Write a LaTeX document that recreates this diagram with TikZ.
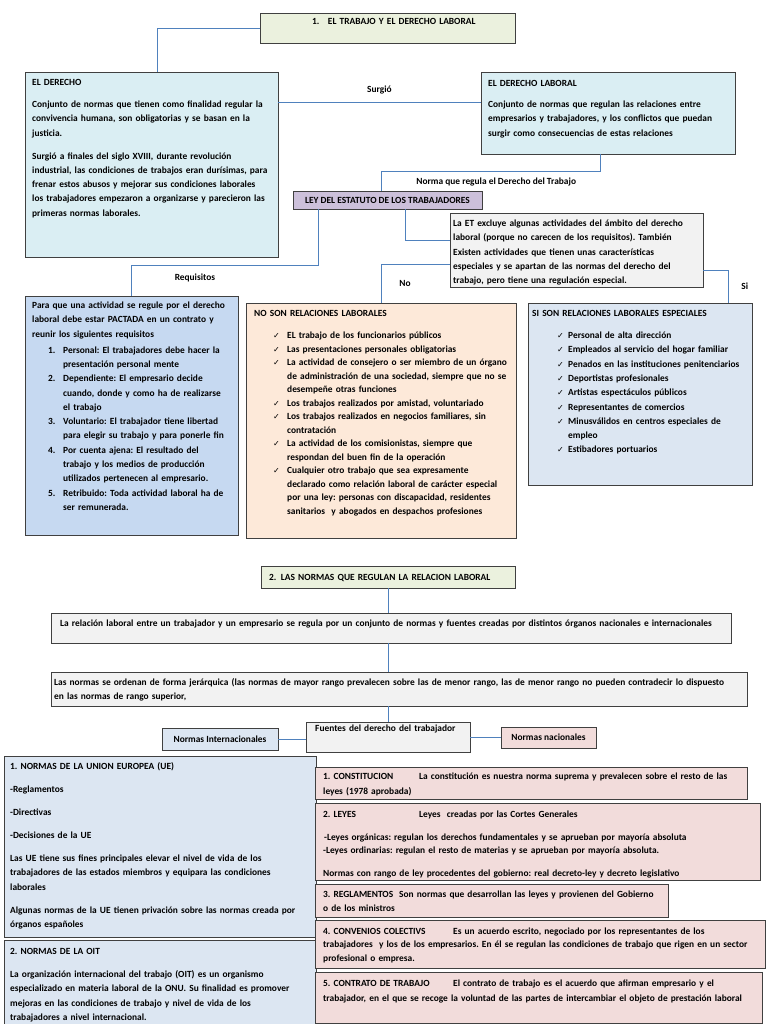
\documentclass[tikz,border=0pt]{standalone}
\usepackage{fontspec}
\setmainfont{Carlito}
\newfontfamily\symfont{DejaVu Sans}
\newcommand{\chk}[1][14pt]{\makebox[#1][l]{\symfont\fontsize{8}{8}\selectfont ✓}}
\newcommand{\num}[1]{\makebox[15pt][l]{#1}}
\definecolor{hdgreen}{HTML}{EBF1DE}
\definecolor{lblue}{HTML}{DAEEF3}
\definecolor{lilac}{HTML}{CCC0DA}
\definecolor{lgray}{HTML}{F2F2F2}
\definecolor{mblue}{HTML}{C6D9F1}
\definecolor{peach}{HTML}{FDE9D9}
\definecolor{gblue}{HTML}{DCE6F2}
\definecolor{rose}{HTML}{F2DCDB}
\definecolor{linkblue}{HTML}{4F81BD}
\frenchspacing
\begin{document}
\begin{tikzpicture}[x=1pt, y=-1pt]
        \tikzset{
            block/.style = {draw=black!75, line width=0.9pt, rectangle, anchor=north west, inner sep=0pt, outer sep=0pt,
                            font=\fontsize{9.4}{12}\selectfont\bfseries},
            body/.style  = {anchor=base west, inner sep=0pt, text width=760pt, align=left,
                            font=\fontsize{9.4}{14.3}\selectfont\bfseries},
            tag/.style   = {inner sep=2pt, font=\fontsize{9.4}{12}\selectfont\bfseries},
            link/.style  = {draw=linkblue, line width=0.7pt}
        }
        \useasboundingbox (0,0) rectangle (768,1024);
        \clip (0,0) rectangle (768,1024);
        \fill[white] (0,0) rectangle (768,1024);

        % part 1
        \node[block, fill=hdgreen, minimum width=255pt, minimum height=30pt] (T1) at (260,13) {};
        \node[body] (T1tx) at (312,24.5) {1.\hspace{8.5pt}EL TRABAJO Y EL DERECHO LABORAL};

        \node[block, fill=lblue, minimum width=253pt, minimum height=185pt] (DER) at (25,72) {};
        \node[body] (DERtx) at (32,85.5) {EL DERECHO\\[7.7pt]
            Conjunto de normas que tienen como finalidad regular la\\
            convivencia humana, son obligatorias y se basan en la\\
            justicia.\\[8.7pt]
            Surgió a finales del siglo XVIII, durante revolución\\
            industrial, las condiciones de trabajos eran durísimas, para\\
            frenar estos abusos y mejorar sus condiciones laborales\\
            los trabajadores empezaron a organizarse y parecieron las\\
            primeras normas laborales.};

        \node[block, fill=lblue, minimum width=254pt, minimum height=82pt] (DLAB) at (481,72) {};
        \node[body] (DLABtx) at (488,86.5) {EL DERECHO LABORAL\\[6.7pt]
            Conjunto de normas que regulan las relaciones entre\\
            empresarios y trabajadores, y los conflictos que puedan\\
            surgir como consecuencias de estas relaciones};

        \node[block, fill=lilac, minimum width=189pt, minimum height=18pt] (LEY) at (293,191) {LEY DEL ESTATUTO DE LOS TRABAJADORES};

        \node[block, fill=lgray, minimum width=253pt, minimum height=74pt] (ET) at (450,213) {};
        \node[body] (ETtx) at (453,226.5) {La ET excluye algunas actividades del ámbito del derecho\\
            laboral (porque no carecen de los requisitos). También\\
            Existen actividades que tienen unas características\\
            especiales y se apartan de las normas del derecho del\\
            trabajo, pero tiene una regulación especial.};

        \node[block, fill=mblue, minimum width=213pt, minimum height=239pt] (REQ) at (25,296) {};
        \node[body] (REQtx) at (32,308.5) {Para que una actividad se regule por el derecho\\
            laboral debe estar PACTADA en un contrato y\\
            reunir los siguientes requisitos\\[1.7pt]
            \hspace*{16pt}\num{1.}Personal: El trabajadores debe hacer la\\
            \hspace*{31pt}presentación personal mente\\
            \hspace*{16pt}\num{2.}Dependiente: El empresario decide\\
            \hspace*{31pt}cuando, donde y como ha de realizarse\\
            \hspace*{31pt}el trabajo\\
            \hspace*{16pt}\num{3.}Voluntario: El trabajador tiene libertad\\
            \hspace*{31pt}para elegir su trabajo y para ponerle fin\\
            \hspace*{16pt}\num{4.}Por cuenta ajena: El resultado del\\
            \hspace*{31pt}trabajo y los medios de producción\\
            \hspace*{31pt}utilizados pertenecen al empresario.\\
            \hspace*{16pt}\num{5.}Retribuido: Toda actividad laboral ha de\\
            \hspace*{31pt}ser remunerada.};

        \node[block, fill=peach, minimum width=270pt, minimum height=235pt] (NOS) at (246,303) {};
        \node[body, font=\fontsize{9.4}{13.5}\selectfont\bfseries] (NOStx) at (254,316.5) {NO SON RELACIONES LABORALES\\[8.5pt]
            \hspace*{19pt}\chk EL trabajo de los funcionarios públicos\\
            \hspace*{19pt}\chk Las presentaciones personales obligatorias\\
            \hspace*{19pt}\chk La actividad de consejero o ser miembro de un órgano\\
            \hspace*{33pt}de administración de una sociedad, siempre que no se\\
            \hspace*{33pt}desempeñe otras funciones\\
            \hspace*{19pt}\chk Los trabajos realizados por amistad, voluntariado\\
            \hspace*{19pt}\chk Los trabajos realizados en negocios familiares, sin\\
            \hspace*{33pt}contratación\\
            \hspace*{19pt}\chk La actividad de los comisionistas, siempre que\\
            \hspace*{33pt}respondan del buen fin de la operación\\
            \hspace*{19pt}\chk Cualquier otro trabajo que sea expresamente\\
            \hspace*{33pt}declarado como relación laboral de carácter especial\\
            \hspace*{33pt}por una ley: personas con discapacidad, residentes\\
            \hspace*{33pt}sanitarios\ \ y abogados en despachos profesiones};

        \node[block, fill=gblue, minimum width=224pt, minimum height=182pt] (SIS) at (528,303) {};
        \node[body] (SIStx) at (532,316.5) {SI SON RELACIONES LABORALES ESPECIALES\\[7.7pt]
            \hspace*{25pt}\chk[11pt]Personal de alta dirección\\
            \hspace*{25pt}\chk[11pt]Empleados al servicio del hogar familiar\\
            \hspace*{25pt}\chk[11pt]Penados en las instituciones penitenciarios\\
            \hspace*{25pt}\chk[11pt]Deportistas profesionales\\
            \hspace*{25pt}\chk[11pt]Artistas espectáculos públicos\\
            \hspace*{25pt}\chk[11pt]Representantes de comercios\\
            \hspace*{25pt}\chk[11pt]Minusválidos en centros especiales de\\
            \hspace*{36pt}empleo\\
            \hspace*{25pt}\chk[11pt]Estibadores portuarios};

        \draw[link] (T1.west) -| ([xshift=5.5pt]DER.north);
        \draw[link] ([yshift=-30pt]DER.north east) -- node[tag, above=6pt]{Surgió} ([yshift=-30pt]DLAB.north west);
        \draw[link] ([xshift=-8pt]DLAB.south) |- node[tag, pos=0.737, below=5pt]{Norma que regula el Derecho del Trabajo}
            ([xshift=-6.5pt, yshift=20pt]LEY.north) -- ([xshift=-6.5pt]LEY.north);
        \draw[link] ([xshift=17.5pt]LEY.south) |- ([yshift=10pt]ET.west);
        \draw[link] ([xshift=-69.5pt]LEY.south) -- ++(0,56) -| node[tag, pos=0.33, below=6.5pt]{Requisitos} (REQ.north);
        \draw[link] ([yshift=-14pt]ET.west) -| node[tag, pos=0.75, right=16pt]{No} (NOS.north);
        \draw[link] ([yshift=-20pt]ET.east) -| node[tag, pos=0.75, right=11pt]{Si} ([xshift=-24pt]SIS.north east);

        % part 2
        \node[block, fill=hdgreen, minimum width=254pt, minimum height=22pt] (T2) at (261,566) {};
        \node[body] (T2tx) at (269,580.5) {2.\hspace{4.5pt}LAS NORMAS QUE REGULAN LA RELACION LABORAL};

        \node[block, fill=lgray, minimum width=680pt, minimum height=30pt] (REL) at (51,613) {};
        \node[body] (RELtx) at (60,626.5) {La relación laboral entre un trabajador y un empresario se regula por un conjunto de normas y fuentes creadas por distintos órganos nacionales e internacionales};

        \node[block, fill=lgray, minimum width=696pt, minimum height=34pt] (JER) at (51,672) {};
        \node[body] (JERtx) at (54,685.5) {Las normas se ordenan de forma jerárquica (las normas de mayor rango prevalecen sobre las de menor rango, las de menor rango no pueden contradecir lo dispuesto\\
            en las normas de rango superior,};

        \node[block, fill=lgray, minimum width=164pt, minimum height=30pt] (FUE) at (306,722) {};
        \node[body] (FUEtx) at (315,731.5) {Fuentes del derecho del trabajador};

        \node[block, fill=gblue, minimum width=116pt, minimum height=22pt] (NINT) at (162,728) {Normas Internacionales};
        \node[block, fill=rose, minimum width=95pt, minimum height=21pt] (NNAC) at (501,727) {Normas nacionales};

        \draw[link] (T2.south) -- (T2.south |- REL.north);
        \draw[link] (T2.south |- REL.south) -- (T2.south |- JER.north);
        \draw[link] (T2.south |- JER.south) -- (T2.south |- FUE.north);
        \draw[link] (NINT.east) -- (NINT.east -| FUE.west);
        \draw[link] (FUE.east) -- (FUE.east -| NNAC.west);

        % normas internacionales
        \node[block, fill=gblue, minimum width=312pt, minimum height=181pt] (UE) at (4,756) {};
        \node[body] (UEtx) at (10,769.5) {1. NORMAS DE LA UNION EUROPEA (UE)\\[8.7pt]
            -Reglamentos\\[8.7pt]
            -Directivas\\[8.7pt]
            -Decisiones de la UE\\[8.7pt]
            Las UE tiene sus fines principales elevar el nivel de vida de los\\
            trabajadores de las estados miembros y equipara las condiciones\\
            laborales\\[8.7pt]
            Algunas normas de la UE tienen privación sobre las normas creada por\\
            órganos españoles};

        \node[block, fill=gblue, minimum width=312pt, minimum height=90pt] (OIT) at (4,940) {};
        \node[body] (OITtx) at (10,954.5) {2. NORMAS DE LA OIT\\[8.7pt]
            La organización internacional del trabajo (OIT) es un organismo\\
            especializado en materia laboral de la ONU. Su finalidad es promover\\
            mejoras en las condiciones de trabajo y nivel de vida de los\\
            trabajadores a nivel internacional.};

        % normas nacionales
        \node[block, fill=rose, minimum width=432pt, minimum height=32pt] (CONS) at (315,767) {};
        \node[body] (CONStx) at (323,779.5) {\makebox[96pt][l]{1. CONSTITUCION}La constitución es nuestra norma suprema y prevalecen sobre el resto de las\\[0.7pt]
            leyes (1978 aprobada)};

        \node[block, fill=rose, minimum width=445pt, minimum height=77pt] (LEYES) at (315,803) {};
        \node[body] (LEYEStx) at (323,817.5) {\makebox[96pt][l]{2. LEYES}Leyes\ \ creadas por las Cortes Generales\\[8.7pt]
            \hspace*{1pt}-Leyes orgánicas: regulan los derechos fundamentales y se aprueban por mayoría absoluta\\[-1.3pt]
            -Leyes ordinarias: regulan el resto de materias y se aprueban por mayoría absoluta.\\[8.7pt]
            Normas con rango de ley procedentes del gobierno: real decreto-ley y decreto legislativo};

        \node[block, fill=rose, minimum width=353pt, minimum height=33pt] (REGL) at (315,884) {};
        \node[body] (REGLtx) at (323,897.5) {3. REGLAMENTOS\hspace{6pt}Son normas que desarrollan las leyes y provienen del Gobierno\\
            o de los ministros};

        \node[block, fill=rose, minimum width=450pt, minimum height=48pt] (CONV) at (315,920) {};
        \node[body] (CONVtx) at (323,934.5) {\makebox[130pt][l]{4. CONVENIOS COLECTIVS}Es un acuerdo escrito, negociado por los representantes de los\\[-1.3pt]
            trabajadores\ \ y los de los empresarios. En él se regulan las condiciones de trabajo que rigen en un sector\\
            profesional o empresa.};

        \node[block, fill=rose, minimum width=447pt, minimum height=51pt] (CONT) at (315,972) {};
        \node[body] (CONTtx) at (323,986) {\makebox[130pt][l]{5. CONTRATO DE TRABAJO}El contrato de trabajo es el acuerdo que afirman empresario y el\\[0.7pt]
            trabajador, en el que se recoge la voluntad de las partes de intercambiar el objeto de prestación laboral};
    \end{tikzpicture}
\end{document}
